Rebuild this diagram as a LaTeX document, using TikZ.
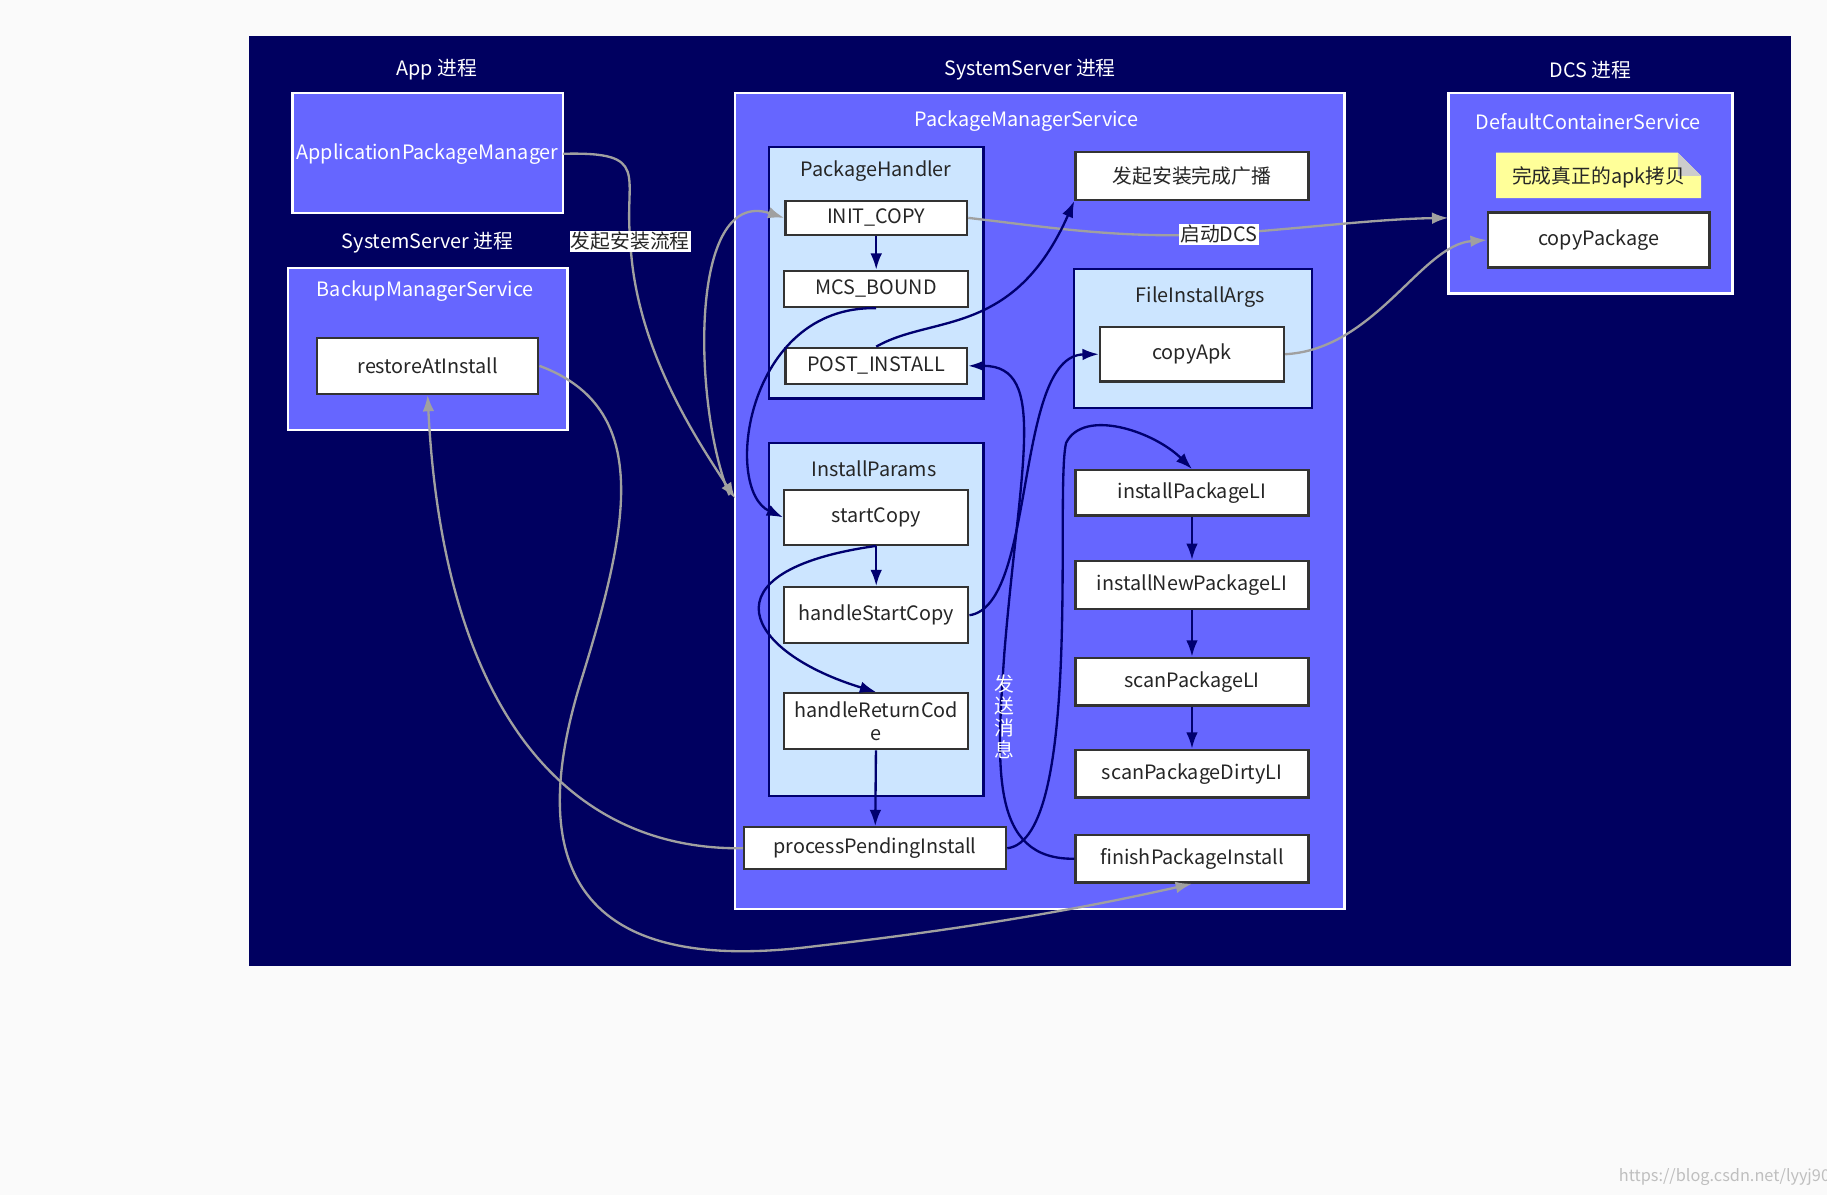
\documentclass[tikz,border=0pt]{standalone}
\usepackage{fontspec}
\setmainfont{Noto Sans CJK SC}
\usetikzlibrary{arrows.meta}
\definecolor{bgnavy}{RGB}{0,0,96}
\definecolor{clblue}{RGB}{102,102,255}
\definecolor{cllight}{RGB}{204,229,255}
\definecolor{ednavy}{RGB}{0,0,112}
\definecolor{edgray}{RGB}{160,160,160}
\definecolor{notey}{RGB}{255,255,153}
\begin{document}
\begin{tikzpicture}[x=0.5pt,y=-0.5pt,font=\fontsize{8.5}{10}\selectfont,
 clb/.style={draw=white,line width=1pt,fill=clblue},
 cll/.style={draw=ednavy,line width=1pt,fill=cllight},
 box/.style={draw=black!80,line width=1pt,fill=white,text=black!85,inner sep=1pt,align=center},
 ttl/.style={text=white},
 ttlb/.style={text=black!85},
 ge/.style={draw=edgray,line width=1pt,-{Latex[length=7pt,width=5pt]}},
 ne/.style={draw=ednavy,line width=1pt,-{Latex[length=7pt,width=5pt]}}]
\useasboundingbox (0,0) rectangle (1568,1026);
\fill[black!2] (0,0) rectangle (1568,1026);
\fill[bgnavy] (214,31) rectangle (1537,829);
% clusters
\node[ttl] at (375,60) {App 进程};
\node[ttl] at (367,208) {SystemServer 进程};
\node[ttl] at (884,60) {SystemServer 进程};
\node[ttl] at (1365,60) {DCS 进程};
\draw[clb] (251,80) rectangle (483,183);
\node[box,draw=none,fill=none,text=white,inner sep=0pt] (apm) at (367,132) {ApplicationPackageManager};
\coordinate (apmE) at (483,132);
\draw[clb] (247,230) rectangle (487,369);
\node[ttl] at (365,250) {BackupManagerService};
\draw[clb] (631,80) rectangle (1154,780);
\coordinate (pmsW) at (631,428);
\node[ttl] at (881,104) {PackageManagerService};
\draw[cll] (660,126) rectangle (844,342);
\node[ttlb] at (752,147) {PackageHandler};
\draw[cll] (660,380) rectangle (844,683);
\node[ttlb] at (750,402) {InstallParams};
\draw[cll] (922,231) rectangle (1126,350);
\node[ttlb] at (1030,255) {FileInstallArgs};
\draw[clb] (1243,80) rectangle (1487,252);
\coordinate (dcsW) at (1243,187);
\node[ttl] at (1363,104) {DefaultContainerService};
% note
\fill[notey] (1284,131) -- (1440,131) -- (1460,151) -- (1460,170) -- (1284,170) -- cycle;
\fill[black!20] (1440,131) -- (1460,151) -- (1440,151) -- cycle;
\node[text=black!85] (note) at (1372,152) {完成真正的apk拷贝};
% nodes
\node[box,minimum width=95pt,minimum height=24pt] (rai) at (367,314) {restoreAtInstall};
\node[box,minimum width=78pt,minimum height=14.5pt] (init) at (752,187) {INIT\_COPY};
\node[box,minimum width=79pt,minimum height=15.5pt] (mcs) at (752,248) {MCS\_BOUND};
\node[box,minimum width=78pt,minimum height=15.5pt] (post) at (752,314) {POST\_INSTALL};
\node[box,minimum width=79pt,minimum height=23.5pt] (sc) at (752,444) {startCopy};
\node[box,minimum width=79pt,minimum height=24pt] (hsc) at (752,528) {handleStartCopy};
\node[box,minimum width=79pt,minimum height=24pt] (hrc) at (752,619) {handleReturnCod\\e};
\node[box,minimum width=112.5pt,minimum height=18pt] (ppi) at (751,728) {processPendingInstall};
\node[box,minimum width=100pt,minimum height=20.5pt] (bc) at (1023,151) {发起安装完成广播};
\node[box,minimum width=79pt,minimum height=23.5pt] (capk) at (1023,304) {copyApk};
\node[box,minimum width=100pt,minimum height=19.5pt] (ipl) at (1023,423) {installPackageLI};
\node[box,minimum width=100pt,minimum height=20.5pt] (inpl) at (1023,502) {installNewPackageLI};
\node[box,minimum width=100pt,minimum height=20.5pt] (spl) at (1023,585) {scanPackageLI};
\node[box,minimum width=100pt,minimum height=20.5pt] (spdl) at (1023,664) {scanPackageDirtyLI};
\node[box,minimum width=100pt,minimum height=20.5pt] (fpi) at (1023,737) {finishPackageInstall};
\node[box,minimum width=95pt,minimum height=23.5pt] (cp) at (1372,206) {copyPackage};
% gray edges
\draw[ge] (apmE) .. controls (560,130) and (535,150) .. (541,207) .. controls (545,300) and (600,380) .. (pmsW);
\node[fill=white,text=black!85,inner sep=0.5pt] at (541,207) {发起安装流程};
\draw[ge] (626,425) .. controls (595,350) and (590,160) .. (init.west);
\draw[ge] (init.east) .. controls (900,195) and (960,205) .. (1046,201) .. controls (1120,196) and (1180,188) .. (dcsW);
\node[fill=white,text=black!85,inner sep=0.5pt] at (1046,201) {启动DCS};
\draw[ge] (capk.east) .. controls (1180,300) and (1220,210) .. (cp.west);
\draw[ge] (ppi.west) .. controls (480,730) and (380,600) .. (rai.south);
\draw[ge] (rai.east) .. controls (560,350) and (540,450) .. (500,580) .. controls (430,800) and (560,830) .. (700,812) .. controls (850,795) and (950,775) .. (fpi.south);
% navy edges
\draw[ne] (init) -- (mcs);
\draw[ne] (mcs.south) .. controls (640,262) and (620,420) .. (sc.west);
\draw[ne] (post.north) .. controls (800,270) and (870,290) .. (bc.south west);
\draw[ne] (sc) -- (hsc);
\draw[ne] (sc.south) .. controls (600,490) and (640,560) .. (hrc.north);
\draw[ne] (hsc.east) .. controls (890,520) and (870,305) .. (capk.west);
\draw[ne] (hrc) -- (ppi);
\draw[ne] (ppi.east) .. controls (930,720) and (905,420) .. (915,380) .. controls (930,350) and (990,370) .. (ipl.north);
\draw[ne] (ipl) -- (inpl);
\draw[ne] (inpl) -- (spl);
\draw[ne] (spl) -- (spdl);
\draw[ne] (fpi.west) .. controls (850,738) and (855,660) .. (862,560) .. controls (875,400) and (900,314) .. (post.east);
\node[text=white,align=center,font=\fontsize{8.5}{9.5}\selectfont] at (862,615) {发\\送\\消\\息};
\node[text=black!25,font=\fontsize{7}{8}\selectfont] at (1480,1010) {https://blog.csdn.net/lyyj90};
\end{tikzpicture}
\end{document}
